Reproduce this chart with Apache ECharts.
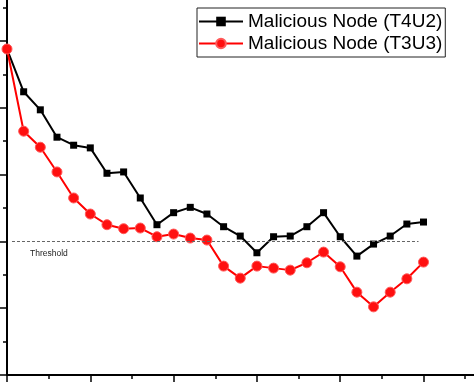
<!DOCTYPE html>
<html>
<head>
<meta charset="utf-8">
<script src="https://cdn.jsdelivr.net/npm/echarts@6/dist/echarts.min.js"></script>
<style>
html,body{margin:0;padding:0;background:#fff;}
#chart{width:474px;height:382px;}
</style>
</head>
<body>
<div id="chart"></div>
<script>
var xValues = [0,1,2,3,4,5,6,7,8,9,10,11,12,13,14,15,16,17,18,19,20,21,22,23,24,25];
var blackName = 'Malicious Node (T4U2)';
var redName = 'Malicious Node (T3U3)';
var blackValues = [4.88,4.24,3.97,3.56,3.44,3.40,3.02,3.04,2.65,2.25,2.43,2.51,2.41,2.22,2.08,1.83,2.07,2.08,2.22,2.43,2.07,1.78,1.96,2.08,2.26,2.29];
var redValues = [4.88,3.65,3.41,3.04,2.65,2.41,2.25,2.19,2.20,2.07,2.11,2.05,2.02,1.63,1.45,1.63,1.60,1.57,1.68,1.84,1.62,1.24,1.02,1.24,1.44,1.69];
var thresholdValue = 2;
var thresholdRange = [0.3, 24.7];
var thresholdLabel = 'Threshold';
var xMin = 0, xMax = 28.03;
var yMin = 0, yMax = 5.614;
var xMajorTicks = [0,5,10,15,20,25];
var xMinorTicks = [2.5,7.5,12.5,17.5,22.5,27.5];
var yMajorTicks = [0,1,2,3,4,5];
var yMinorTicks = [0.5,1.5,2.5,3.5,4.5,5.5];

function pairs(xs, ys){ return xs.map(function(x,i){ return [x, ys[i]]; }); }

var chart = echarts.init(document.getElementById('chart'), null, {renderer:'canvas'});
var font = 'Liberation Sans, Arial, Helvetica, sans-serif';
function axis(kind, pos, min, max, ticks, len, showLine){
  return {type:'value', position:pos, min:min, max:max,
    axisLine:{show:showLine, onZero:false, lineStyle:{color:'#000', width:2}},
    axisTick:{show:true, inside:false, length:len, customValues:ticks, lineStyle:{color:'#000', width:1.5}},
    axisLabel:{show:false, customValues:ticks}, splitLine:{show:false}};
}
chart.setOption({
  animation: false,
  backgroundColor: '#fff',
  textStyle: {fontFamily: font},
  grid: {left: 7, right: 0, top: 0, bottom: 7, containLabel: false},
  legend: {
    orient: 'vertical',
    left: 197, top: 8,
    padding: [4, 3, 4, 1],
    itemGap: 3,
    itemWidth: 44, itemHeight: 12,
    borderColor: '#222', borderWidth: 1,
    textStyle: {fontSize: 19, color: '#000', fontFamily: font},
    data: [blackName, redName]
  },
  xAxis: [
    axis('x','bottom', xMin, xMax, xMajorTicks, 7, true),
    axis('x','bottom', xMin, xMax, xMinorTicks, 4, false)
  ],
  yAxis: [
    axis('y','left', yMin, yMax, yMajorTicks, 7, true),
    axis('y','left', yMin, yMax, yMinorTicks, 4, false)
  ],
  series: [
    {
      name: blackName, type:'line', xAxisIndex:0, yAxisIndex:0,
      data: pairs(xValues, blackValues),
      symbol:'rect', symbolSize:7, showAllSymbol:true,
      lineStyle:{color:'#000', width:2},
      itemStyle:{color:'#000'},
      clip:false,
      markLine:{
        silent:true, symbol:['none','none'],
        lineStyle:{color:'#666', width:1, type:[3,2]},
        label:{show:true, formatter:thresholdLabel, position:'insideStartBottom',
               distance:[18, 8], fontSize:8.5, color:'#222', fontFamily:font},
        data:[[{coord:[thresholdRange[0], thresholdValue]},{coord:[thresholdRange[1], thresholdValue]}]]
      }
    },
    {
      name: redName, type:'line', xAxisIndex:0, yAxisIndex:0,
      data: pairs(xValues, redValues),
      symbol:'circle', symbolSize:10, showAllSymbol:true,
      lineStyle:{color:'#f00', width:2},
      itemStyle:{color:'#ff1010', borderColor:'#ff5a5a', borderWidth:1},
      clip:false
    }
  ]
});
</script>
</body>
</html>
